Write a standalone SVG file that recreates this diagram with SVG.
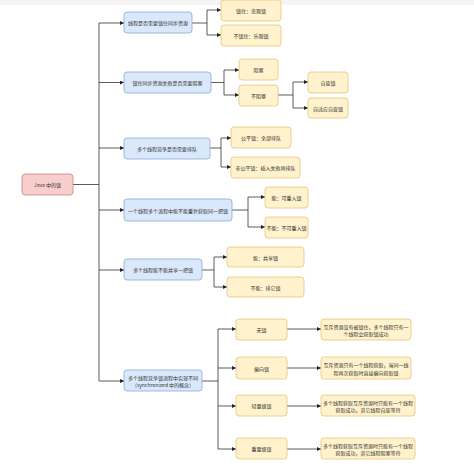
<svg xmlns="http://www.w3.org/2000/svg" width="474" height="476" viewBox="0 0 474 476">
<defs>
<marker id="ah" viewBox="0 0 6 6" refX="6" refY="3" markerWidth="4" markerHeight="4" orient="auto" markerUnits="userSpaceOnUse"><path d="M0,0 L6,3 L0,6 Z" fill="#222"/></marker>
<style>
.b{fill:#dae8fc;stroke:#8aa9d6;stroke-width:0.8}
.y{fill:#fff2cc;stroke:#e3c77a;stroke-width:0.8}
.r{fill:#f8cecc;stroke:#c98482;stroke-width:0.8}
text{font-family:"Noto Sans CJK SC","Liberation Sans",sans-serif;font-size:5px;fill:#333;text-anchor:middle;dominant-baseline:central}
.c path{fill:none;stroke:#333;stroke-width:0.8}
.c .a{marker-end:url(#ah)}
</style>
</defs>
<rect width="474" height="476" fill="#ffffff"/>
<rect width="474" height="5" fill="#f5f5f5"/>
<g class="c">
<path d="M73,184.5 H99"/>
<path d="M99,23 V381"/>
<path class="a" d="M99,23 H124"/>
<path class="a" d="M99,82.5 H124"/>
<path class="a" d="M99,148 H124"/>
<path class="a" d="M99,210 H124"/>
<path class="a" d="M99,270 H124"/>
<path class="a" d="M99,381 H124"/>
<path d="M192,23 H207 M207,10 V35"/>
<path class="a" d="M207,10 H221"/>
<path class="a" d="M207,35 H221"/>
<path d="M211,82.5 H224 M224,70 V95"/>
<path class="a" d="M224,70 H239"/>
<path class="a" d="M224,95 H239"/>
<path d="M278,95 H293 M293,82 V108"/>
<path class="a" d="M293,82 H308"/>
<path class="a" d="M293,108 H308"/>
<path d="M210,148 H221 M221,138 V167"/>
<path class="a" d="M221,138 H231"/>
<path class="a" d="M221,167 H231"/>
<path d="M232,210 H248 M248,197 V227"/>
<path class="a" d="M248,197 H265"/>
<path class="a" d="M248,227 H265"/>
<path d="M202,270 H214 M214,257 V287"/>
<path class="a" d="M214,257 H227"/>
<path class="a" d="M214,287 H227"/>
<path d="M202,381 H218 M218,329 V449"/>
<path class="a" d="M218,329 H236"/>
<path class="a" d="M218,368 H236"/>
<path class="a" d="M218,406 H236"/>
<path class="a" d="M218,449 H236"/>
<path class="a" d="M287,329 H321"/>
<path class="a" d="M287,368 H321"/>
<path class="a" d="M287,406 H321"/>
<path class="a" d="M287,449 H321"/>
</g>
<g id="root"><rect class="r" x="22" y="174" width="51" height="21" rx="3"/><text x="47.5" y="184.5">Java 中的锁</text></g>
<g id="n1"><rect class="b" x="124" y="12" width="68" height="21" rx="3"/><text x="158" y="22.5">线程是否需要锁住同步资源</text></g>
<g id="n2"><rect class="b" x="124" y="72" width="87" height="21" rx="3"/><text x="167.5" y="82.5">锁住同步资源失败是否需要阻塞</text></g>
<g id="n3"><rect class="b" x="124" y="138" width="86" height="21" rx="3"/><text x="167" y="148.5">多个线程竞争是否需要排队</text></g>
<g id="n4"><rect class="b" x="124" y="199" width="108" height="22" rx="3"/><text x="178" y="210">一个线程多个流程中能不能重复获取同一把锁</text></g>
<g id="n5"><rect class="b" x="124" y="259" width="78" height="21" rx="3"/><text x="163" y="269.5">多个线程能不能共享一把锁</text></g>
<g id="n6"><rect class="b" x="124" y="370" width="78" height="21" rx="3"/><text x="163" y="377">多个线程竞争锁流程中实现不同</text><text x="163" y="384.5">（synchronized 中的概念）</text></g>
<g id="l1"><rect class="y" x="221" y="0" width="60" height="21" rx="3"/><text x="251" y="10">锁住：悲观锁</text></g>
<g id="l2"><rect class="y" x="221" y="25" width="60" height="21" rx="3"/><text x="251" y="35.5">不锁住：乐观锁</text></g>
<g id="l3"><rect class="y" x="239" y="59" width="39" height="21" rx="3"/><text x="258.5" y="69.5">阻塞</text></g>
<g id="l4"><rect class="y" x="239" y="85" width="39" height="21" rx="3"/><text x="258.5" y="95.5">不阻塞</text></g>
<g id="l5"><rect class="y" x="308" y="72" width="40" height="21" rx="3"/><text x="328" y="82.5">自旋锁</text></g>
<g id="l6"><rect class="y" x="308" y="98" width="40" height="20" rx="3"/><text x="328" y="108">自适应自旋锁</text></g>
<g id="l7"><rect class="y" x="231" y="127" width="60" height="21" rx="3"/><text x="261" y="137.5">公平锁：全部排队</text></g>
<g id="l8"><rect class="y" x="231" y="157" width="69" height="21" rx="3"/><text x="265.5" y="167.5">非公平锁：插入失败再排队</text></g>
<g id="l9"><rect class="y" x="265" y="187" width="43" height="21" rx="3"/><text x="286.5" y="197.5">能：可重入锁</text></g>
<g id="l10"><rect class="y" x="265" y="217" width="43" height="21" rx="3"/><text x="286.5" y="227.5">不能：不可重入锁</text></g>
<g id="l11"><rect class="y" x="227" y="247" width="77" height="20" rx="3"/><text x="265.5" y="257">能：共享锁</text></g>
<g id="l12"><rect class="y" x="227" y="277" width="77" height="20" rx="3"/><text x="265.5" y="287">不能：排它锁</text></g>
<g id="l13"><rect class="y" x="236" y="319" width="51" height="21" rx="3"/><text x="261.5" y="329.5">无锁</text></g>
<g id="l14"><rect class="y" x="236" y="357" width="51" height="22" rx="3"/><text x="261.5" y="368">偏向锁</text></g>
<g id="l15"><rect class="y" x="236" y="395" width="51" height="21" rx="3"/><text x="261.5" y="405.5">轻量级锁</text></g>
<g id="l16"><rect class="y" x="236" y="438" width="51" height="21" rx="3"/><text x="261.5" y="448.5">重量级锁</text></g>
<g id="d1"><rect class="y" x="321" y="319" width="90" height="21" rx="3"/><text x="366" y="326">互斥资源没有被锁住，多个线程只有一</text><text x="366" y="333.5">个线程会获取锁成功</text></g>
<g id="d2"><rect class="y" x="321" y="357" width="90" height="22" rx="3"/><text x="366" y="364.5">互斥资源只有一个线程获取，当同一线</text><text x="366" y="372">程再次获取时直接偏向获取锁</text></g>
<g id="d3"><rect class="y" x="321" y="395" width="94" height="21" rx="3"/><text x="368" y="402">多个线程获取互斥资源时只能有一个线程</text><text x="368" y="409.5">获取成功，其它线程自旋等待</text></g>
<g id="d4"><rect class="y" x="321" y="438" width="94" height="21" rx="3"/><text x="368" y="445">多个线程获取互斥资源时只能有一个线程</text><text x="368" y="452.5">获取成功，其它线程阻塞等待</text></g>
</svg>
